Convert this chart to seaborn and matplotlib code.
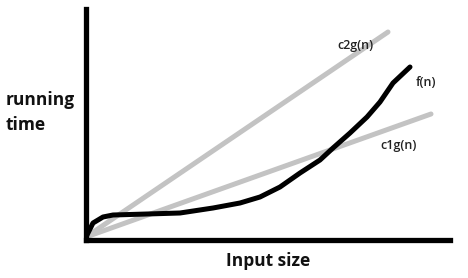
import matplotlib
matplotlib.use("Agg")
import matplotlib.pyplot as plt
import seaborn as sns
import pandas as pd

# data (arbitrary units: x = input size, y = running time)
f_x = [0, 7, 17, 27, 61, 94, 127, 154, 174, 194, 214, 234, 247, 264, 281, 294, 307, 324]
f_y = [3, 17, 23, 25, 26, 27, 32, 37, 43, 53, 67, 80, 92, 107, 123, 138, 157, 173]
c2_x = [0, 302]
c2_y = [3, 208]
c1_x = [0, 345]
c1_y = [3, 126]

labels = ["f(n)", "c2g(n)", "c1g(n)"]

sns.set_theme(style="white")
plt.rcParams['font.family'] = ['Open Sans', 'DejaVu Sans']

fig = plt.figure(figsize=(4.68, 2.78), dpi=100)
ax = fig.add_axes([86/468, 38/278, 364/468, 231/278])

gray = "#C3C3C3"
df2 = pd.DataFrame({"x": c2_x, "y": c2_y})
df1 = pd.DataFrame({"x": c1_x, "y": c1_y})
dff = pd.DataFrame({"x": f_x, "y": f_y})
sns.lineplot(data=df2, x="x", y="y", ax=ax, color=gray, lw=3.6, sort=False, estimator=None, solid_capstyle="round")
sns.lineplot(data=df1, x="x", y="y", ax=ax, color=gray, lw=3.6, sort=False, estimator=None, solid_capstyle="round")
sns.lineplot(data=dff, x="x", y="y", ax=ax, color="black", lw=3.6, sort=False, estimator=None,
             solid_capstyle="round", solid_joinstyle="round")

ax.set_xlim(0, 364)
ax.set_ylim(0, 231)
ax.set_xticks([])
ax.set_yticks([])
for s in ["top", "right"]:
    ax.spines[s].set_visible(False)
for s in ["left", "bottom"]:
    ax.spines[s].set_color("black")
    ax.spines[s].set_linewidth(3.8)
ax.set_xlabel("")
ax.set_ylabel("")

fig.text(268/468, 1 - 261/278, "Input size", ha="center", va="center", fontsize=12.5, fontweight="bold", color="#111111")
fig.text(6/468, 1 - 100/278, "running", ha="left", va="center", fontsize=12.5, fontweight="bold", color="#111111")
fig.text(6/468, 1 - 125/278, "time", ha="left", va="center", fontsize=12.5, fontweight="bold", color="#111111")

ax.text(269, 240 - 46, labels[1], ha="center", va="center", fontsize=9, fontweight="semibold", color="#222222")
ax.text(340, 240 - 82, labels[0], ha="center", va="center", fontsize=9, fontweight="semibold", color="#222222")
ax.text(313, 240 - 146, labels[2], ha="center", va="center", fontsize=9, fontweight="semibold", color="#222222")

fig.savefig("out.png", dpi=100)
